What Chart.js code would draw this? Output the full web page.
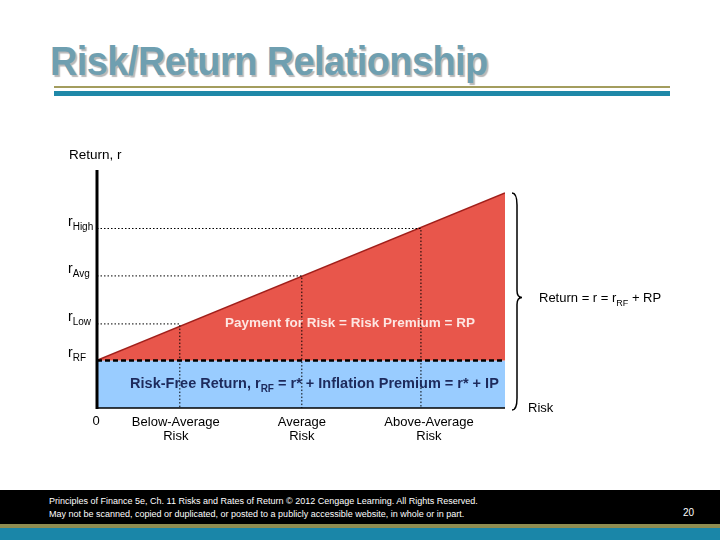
<!DOCTYPE html>
<html>
<head>
<meta charset="utf-8">
<script src="https://cdn.jsdelivr.net/npm/chart.js@4.4.1/dist/chart.umd.min.js"></script>
<style>
  body { margin: 0; background: #fff; }
  #slide { position: relative; width: 720px; height: 540px; overflow: hidden; background: #fff;
           font-family: "Liberation Sans", Arial, sans-serif; }
  #title { position: absolute; left: 50px; top: 39px; font-size: 40px; font-weight: bold; color: #6f9fb0;
           text-shadow: 2px 2px 1px #b8b8b8; white-space: nowrap; transform-origin: left top; letter-spacing: -0.5px; }
  .rule1 { position: absolute; left: 54px; width: 616px; top: 86px; height: 2px; background: #a39d5e; }
  .rule2 { position: absolute; left: 54px; width: 616px; top: 91px; height: 5px; background: #1f88a8; }
  #foot { position: absolute; left: 0; top: 490px; width: 720px; height: 34px; background: #000; }
  .footline { position: absolute; left: 49px; color: #fff; font-size: 8.5px; white-space: nowrap; transform-origin: left top; }
  #page { position: absolute; right: 26px; top: 17px; color: #fff; font-size: 10px; }
  .band1 { position: absolute; left: 0; top: 524px; width: 720px; height: 4px; background: #8f8d52; }
  .band2 { position: absolute; left: 0; top: 528px; width: 720px; height: 12px; background: #1a86a8; }
  canvas { position: absolute; left: 0; top: 0; }
</style>
</head>
<body>
<div id="slide">
  <div id="title">Risk/Return Relationship</div>
  <div class="rule1"></div>
  <div class="rule2"></div>
  <canvas id="riskChart" width="720" height="540"></canvas>
  <div id="foot">
    <div class="footline" id="f1" style="top:6px">Principles of Finance 5e, Ch. 11 Risks and Rates of Return © 2012 Cengage Learning. All Rights Reserved.</div>
    <div class="footline" id="f2" style="top:19px">May not be scanned, copied or duplicated, or posted to a publicly accessible website, in whole or in part.</div>
    <div id="page">20</div>
  </div>
  <div class="band1"></div>
  <div class="band2"></div>
</div>

<script>
// risk axis runs 0..10, return axis 0..12
const riskRange = [0, 10];
const returnRange = [0, 12];

// below-average, average, above-average risk
const riskLevels = [2.03, 5.02, 7.94];
const riskLabels = [['Below-Average', 'Risk'], ['Average', 'Risk'], ['Above-Average', 'Risk']];

// return at zero risk (risk-free) and at the right end of the chart
const returnLine = [2.40, 10.84];
const riskFree = 2.40;

// r Low, r Avg, r High
const returnLevels = [4.24, 6.66, 9.05];
const returnSubs = ['Low', 'Avg', 'High'];

// fit the squashed title and footer to the widths on the slide
function fitWidth(id, w) {
    const el = document.getElementById(id);
    el.style.transform = 'scaleX(' + (w / el.offsetWidth) + ')';
}
fitWidth('title', 438);
fitWidth('f1', 429);
fitWidth('f2', 415);

// draws a string made of [text, isSubscript] parts
function drawParts(ctx, parts, x, y, align, size, weight, color) {
    const mainFont = weight + ' ' + size + 'px "Liberation Sans", Arial, sans-serif';
    const subFont = weight + ' ' + Math.round(size * 0.7) + 'px "Liberation Sans", Arial, sans-serif';
    let total = 0;
    parts.forEach(p => {
        ctx.font = p[1] ? subFont : mainFont;
        total += ctx.measureText(p[0]).width;
    });
    let cx = x;
    if (align === 'center') cx = x - total / 2;
    if (align === 'right') cx = x - total;
    ctx.fillStyle = color;
    ctx.textAlign = 'left';
    ctx.textBaseline = 'alphabetic';
    parts.forEach(p => {
        ctx.font = p[1] ? subFont : mainFont;
        ctx.fillText(p[0], cx, p[1] ? y + 4 : y);
        cx += ctx.measureText(p[0]).width;
    });
}

const slideText = {
    id: 'slideText',
    afterDraw(chart) {
        const ctx = chart.ctx;
        const sx = chart.scales.x, sy = chart.scales.y;
        const x0 = sx.getPixelForValue(riskRange[0]);
        const x1 = sx.getPixelForValue(riskRange[1]);
        const y0 = sy.getPixelForValue(returnRange[0]);
        const yTop = sy.getPixelForValue(returnRange[1]);
        ctx.save();

        // axes
        ctx.strokeStyle = '#000';
        ctx.lineWidth = 3;
        ctx.beginPath();
        ctx.moveTo(x0, yTop);
        ctx.lineTo(x0, y0 + 1);
        ctx.stroke();
        ctx.lineWidth = 1.5;
        ctx.beginPath();
        ctx.moveTo(x0, y0);
        ctx.lineTo(x1, y0);
        ctx.stroke();

        // axis titles
        drawParts(ctx, [['Return, r', false]], x0 - 28, yTop - 11, 'left', 13.5, 'normal', '#000');
        drawParts(ctx, [['Risk', false]], x1 + 23, y0 + 4, 'left', 13, 'normal', '#000');
        drawParts(ctx, [['0', false]], x0 - 1, y0 + 17, 'center', 13, 'normal', '#000');

        // y labels
        const yVals = [riskFree].concat(returnLevels);
        const ySubs = ['RF'].concat(returnSubs);
        yVals.forEach((v, i) => {
            const py = sy.getPixelForValue(v);
            drawParts(ctx, [['r', false], [ySubs[i], true]], x0 - 29, py - 3, 'left', 14, 'normal', '#000');
        });

        // x labels
        const nudge = [-4, 0, 8];
        riskLevels.forEach((v, i) => {
            const px = sx.getPixelForValue(v) + nudge[i];
            drawParts(ctx, [[riskLabels[i][0], false]], px, y0 + 18, 'center', 13, 'normal', '#000');
            drawParts(ctx, [[riskLabels[i][1], false]], px, y0 + 32, 'center', 13, 'normal', '#000');
        });

        // brace on the right
        const top = sy.getPixelForValue(returnLine[1]);
        const bottom = y0 + 2;
        const mid = (top + bottom) / 2 - 4;
        const bx = x1 + 7, bv = x1 + 12, tip = x1 + 17;
        ctx.lineWidth = 1.5;
        ctx.beginPath();
        ctx.moveTo(bx, top);
        ctx.quadraticCurveTo(bv, top, bv, top + 12);
        ctx.lineTo(bv, mid - 7);
        ctx.quadraticCurveTo(bv, mid, tip, mid);
        ctx.quadraticCurveTo(bv, mid, bv, mid + 7);
        ctx.lineTo(bv, bottom - 12);
        ctx.quadraticCurveTo(bv, bottom, bx, bottom);
        ctx.stroke();
        drawParts(ctx, [['Return = r = r', false], ['RF', true], [' + RP', false]], tip + 17, mid + 4, 'left', 13, 'normal', '#000');

        // area captions
        const rfy = sy.getPixelForValue(riskFree);
        drawParts(ctx, [['Payment for Risk = Risk Premium = RP', false]],
            sx.getPixelForValue(6.2), rfy - 33, 'center', 13.5, 'bold', '#fde6e2');
        drawParts(ctx, [['Risk-Free Return, r', false], ['RF', true], [' = r* + Inflation Premium = r* + IP', false]],
            sx.getPixelForValue(5.33), (rfy + y0) / 2 + 4, 'center', 14.5, 'bold', '#1d2a5c');

        ctx.restore();
    }
};

const flat = riskRange.map(x => ({ x: x, y: riskFree }));
const rising = riskRange.map((x, i) => ({ x: x, y: returnLine[i] }));

const guides = riskLevels.map((x, i) => ({
    data: [{ x: riskRange[0], y: returnLevels[i] }, { x: x, y: returnLevels[i] }, { x: x, y: returnRange[0] }],
    showLine: true, fill: false, borderColor: '#000', borderWidth: 1, borderDash: [1.5, 2],
    pointRadius: 0, order: 1
}));

const chart = new Chart(document.getElementById('riskChart'), {
    type: 'scatter',
    data: {
        datasets: [
            {
                data: flat, showLine: true, fill: 'origin', backgroundColor: '#99ccff',
                borderWidth: 0, pointRadius: 0, order: 4
            },
            {
                data: rising, showLine: true, fill: '-1', backgroundColor: '#e8564b',
                borderColor: '#a11f1a', borderWidth: 1.5, pointRadius: 0, order: 3
            },
            {
                data: flat, showLine: true, fill: false, borderColor: '#000', borderWidth: 2.5,
                borderDash: [5, 3], pointRadius: 0, order: 2
            }
        ].concat(guides)
    },
    options: {
        responsive: false,
        animation: false,
        layout: { padding: { left: 97, right: 215, top: 170, bottom: 132 } },
        plugins: { legend: { display: false }, tooltip: { enabled: false } },
        scales: {
            x: { type: 'linear', min: riskRange[0], max: riskRange[1], display: false },
            y: { type: 'linear', min: returnRange[0], max: returnRange[1], display: false }
        }
    },
    plugins: [slideText]
});
</script>
</body>
</html>
